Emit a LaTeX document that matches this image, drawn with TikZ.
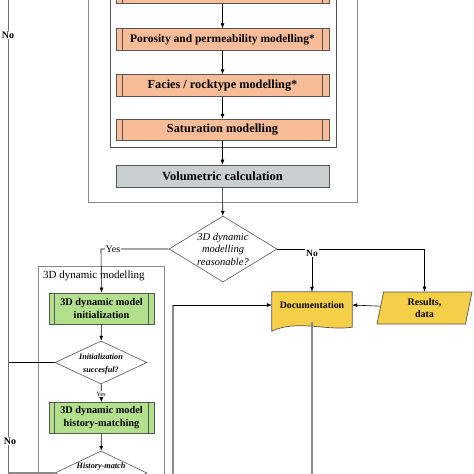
\documentclass[tikz,border=0pt]{standalone}
\usepackage{fontspec}
\setmainfont{Liberation Serif}
\usetikzlibrary{arrows.meta,shapes.geometric,calc}
\definecolor{orangefill}{HTML}{F8BC98}
\definecolor{greenfill}{HTML}{B3E08C}
\definecolor{greyfill}{HTML}{C9CFCF}
\definecolor{yellowfill}{HTML}{F6CF48}
\definecolor{framegrey}{HTML}{8A8A8A}
\definecolor{edgegrey}{HTML}{555555}
\tikzset{
  arr/.style={draw=black, line width=0.6pt, -{Latex[length=5pt,width=4pt]}},
  plain/.style={draw=black, line width=0.6pt},
  greyline/.style={draw=framegrey, line width=1.3pt},
  procbox/.style={rectangle, draw=edgegrey, line width=0.8pt, inner sep=0pt, align=center,
    font=\bfseries\fontsize{11.5}{13}\selectfont,
    path picture={
      \draw[edgegrey, line width=0.6pt] ([xshift=#1]path picture bounding box.north west) -- ([xshift=#1]path picture bounding box.south west);
      \draw[edgegrey, line width=0.6pt] ([xshift=-#1]path picture bounding box.north east) -- ([xshift=-#1]path picture bounding box.south east);
    }},
  orangebox/.style={procbox=6.5pt, fill=orangefill, minimum width=213pt, minimum height=21.5pt},
  greenbox/.style={procbox=5.5pt, fill=greenfill, minimum width=105pt, minimum height=31pt,
    font=\bfseries\fontsize{10.3}{13}\selectfont},
  calcbox/.style={rectangle, draw=edgegrey, line width=0.8pt, fill=greyfill, inner sep=0pt,
    minimum width=213pt, minimum height=22pt, font=\bfseries\fontsize{12.5}{14}\selectfont},
  dia/.style={diamond, draw=edgegrey, line width=0.6pt, fill=white, inner sep=0pt},
  diatext/.style={align=center, inner sep=0pt},
  frame/.style={draw=framegrey, line width=0.8pt},
  lbl/.style={fill=white, inner sep=0.8pt, font=\bfseries\fontsize{10}{11}\selectfont},
  doctext/.style={font=\bfseries\fontsize{9.8}{12}\selectfont, align=center, inner sep=0pt}
}
\begin{document}
\begin{tikzpicture}[x=1pt,y=-1pt]
\useasboundingbox (0,0) rectangle (474,474);
\clip (0,0) rectangle (474,474);
% frames
\draw[frame] (88,-30) rectangle (357,202);
\draw[draw=edgegrey, line width=0.8pt] (110,-30) rectangle (336,147);
\draw[frame] (38,266) rectangle (164,500);
\node[anchor=west, inner sep=0pt, font=\fontsize{11}{12}\selectfont] (dynlabel) at (43,276) {3D dynamic modelling};
% boxes
\node[orangebox] (top) at (222.5,-7) {};
\node[orangebox] (poro) at (222.5,39.5) {Porosity and permeability modelling*};
\node[orangebox, font=\bfseries\fontsize{12.3}{13}\selectfont] (faci) at (222.5,85.5) {Facies / rocktype modelling*};
\node[orangebox, font=\bfseries\fontsize{12.3}{13}\selectfont] (satu) at (222.5,130) {Saturation modelling};
\node[calcbox] (volu) at (222.5,176) {Volumetric calculation};
\node[dia, minimum width=108pt, minimum height=66pt,
  label={[diatext, font=\itshape\fontsize{10.5}{12.5}\selectfont]center:3D dynamic\\modelling\\reasonable?}] (d1) at (223,249) {};
\node[greenbox] (g1) at (101.5,308.5) {3D dynamic model\\initialization};
\node[dia, minimum width=92pt, minimum height=43pt,
  label={[diatext, font=\bfseries\itshape\fontsize{8.2}{13.5}\selectfont, yshift=-1.5pt]center:Initialization\\succesful?}] (d2) at (101,362.5) {};
\node[greenbox] (g2) at (101.5,418) {3D dynamic model\\history-matching};
\node[dia, minimum width=92pt, minimum height=44pt,
  label={[diatext, font=\bfseries\itshape\fontsize{8.2}{13.5}\selectfont, yshift=6pt]center:History-match}] (d3) at (101,473) {};
% documentation (document shape)
\node[minimum width=80pt, minimum height=26pt, inner sep=0pt] (doc) at (312,305) {};
\draw[draw=edgegrey, line width=0.7pt, fill=yellowfill]
  (doc.north west) -- (doc.north east) -- ([yshift=-9pt]doc.south east)
  .. controls ([xshift=-25pt,yshift=-13pt]doc.south east) and ([xshift=25pt,yshift=-1pt]doc.south west) ..
  ([yshift=-13pt]doc.south west) -- cycle;
\node[doctext] (doctxt) at (312,305) {Documentation};
\node[trapezium, trapezium left angle=71, trapezium right angle=109, trapezium stretches body=true,
  draw=edgegrey, line width=0.7pt, fill=yellowfill, minimum width=95pt, minimum height=32pt,
  inner sep=0pt, doctext, font=\bfseries\fontsize{10}{12}\selectfont] (res) at (424.5,308) {Results,\\data};
% coordinates
\coordinate (yescorner) at (101,249);
\coordinate (nosplit) at (312,249);
\coordinate (left2) at (8,362.5);
\coordinate (left3) at (8,473);
\coordinate (lefttop) at (8,-30);
\coordinate (docin) at (173,305);
\coordinate (docinbot) at (173,480);
\coordinate (docbot) at (312,480);
% connectors
\draw[arr] (top) -- (poro);
\draw[arr] (poro) -- (faci);
\draw[arr] (faci) -- (satu);
\draw[arr] (satu) -- (volu);
\draw[arr] (volu) -- (d1);
\draw[arr] (d1.west) -- (yescorner) -- (g1.north);
\node[lbl, font=\fontsize{10}{11}\selectfont] (yes1) at (113,249) {Yes};
\draw[arr] (d1.east) -| (res.north);
\draw[arr] (nosplit) -- (doc.north);
\node[lbl, font=\bfseries\fontsize{9.5}{11}\selectfont] (no1) at (312,253) {No};
\draw[arr] (g1) -- (d2);
\draw[arr] (d2) -- (g2);
\node[lbl, font=\fontsize{6.5}{7}\selectfont] (yes2) at (101,394) {Yes};
\draw[plain] (d2.west) -- (left2);
\draw[arr] (g2) -- (d3);
\draw[greyline] (d3.west) -- (left3);
\draw[draw=framegrey!80!black, line width=1pt] (left3) -- (lefttop);
\node[lbl] (no2) at (8,35) {No};
\node[lbl] (no3) at (10,441) {No};
\draw[arr] (res) -- (doc.east);
\draw[greyline] (docinbot) -- (docin);
\draw[arr] (docin) -- (doc.west);
\draw[greyline] ($(doc.south)+(0,-4pt)$) -- (docbot);
\end{tikzpicture}
\end{document}
